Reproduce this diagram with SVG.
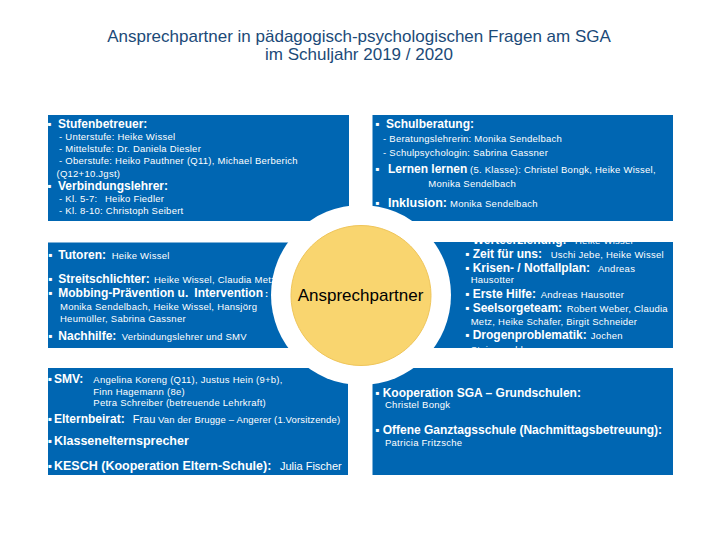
<svg xmlns="http://www.w3.org/2000/svg" width="720" height="540" viewBox="0 0 720 540">
<style>
text{font-family:"Liberation Sans",Arial,sans-serif;fill:#fff}
.t{font-size:17px;fill:#1B4A78;text-anchor:middle}
.b{font-size:12px;font-weight:bold}
.s{font-size:9.5px;letter-spacing:.25px}
.m{font-size:11px}
.box{fill:#0066B2}
.c{font-size:17px;fill:#000;text-anchor:middle}
</style>
<defs>
<clipPath id="cTL"><rect x="48" y="115" width="301" height="106"/></clipPath>
<clipPath id="cTR"><rect x="372.5" y="115" width="300.5" height="106"/></clipPath>
<clipPath id="cML"><rect x="48" y="242.5" width="250" height="105.5"/></clipPath>
<clipPath id="cMR"><rect x="425" y="242" width="248" height="106"/></clipPath>
<clipPath id="cBL"><rect x="48" y="368" width="300" height="107"/></clipPath>
<clipPath id="cBR"><rect x="372.5" y="368" width="300.5" height="107"/></clipPath>
</defs>
<rect width="720" height="540" fill="#fff"/>
<g id="title">
<text class="t" x="359" y="42">Ansprechpartner in pädagogisch-psychologischen Fragen am SGA</text>
<text class="t" x="359" y="60">im Schuljahr 2019 / 2020</text>
</g>
<g id="connectors"/>
<g id="stufenbetreuer">
<rect class="box" x="48" y="115" width="301" height="106"/>
<g clip-path="url(#cTL)">
<text class="b" x="47" y="128">▪</text><text class="b" x="58" y="128">Stufenbetreuer:</text>
<text class="s" x="59" y="139.5">- Unterstufe: Heike Wissel</text>
<text class="s" x="59" y="151.7">- Mittelstufe: Dr. Daniela Diesler</text>
<text class="s" x="59" y="164">- Oberstufe: Heiko Pauthner (Q11), Michael Berberich</text>
<text class="s" x="56.5" y="176.5">(Q12+10.Jgst)</text>
<text class="b" x="47" y="190">▪</text><text class="b" x="58" y="190">Verbindungslehrer:</text>
<text class="s" x="59" y="202.3">- Kl. 5-7:<tspan x="105">Heiko Fiedler</tspan></text>
<text class="s" x="59" y="214.3">- Kl. 8-10: Christoph Seibert</text>
</g>
</g>
<g id="schulberatung">
<rect class="box" x="372.5" y="115" width="300.5" height="106"/>
<g clip-path="url(#cTR)">
<text class="b" x="375" y="128.3">▪</text><text class="b" x="386" y="128.3">Schulberatung:</text>
<text class="s" x="383" y="142.3">- Beratungslehrerin: Monika Sendelbach</text>
<text class="s" x="383" y="155.7">- Schulpsychologin: Sabrina Gassner</text>
<text class="b" x="375" y="173.3">▪</text><text class="b" x="388" y="173.3">Lernen lernen</text>
<text class="s" x="470" y="173.3">(5. Klasse): Christel Bongk, Heike Wissel,</text>
<text class="s" x="428.3" y="187.3">Monika Sendelbach</text>
<text class="b" x="375" y="207.3">▪</text><text class="b" x="388" y="207.3" style="font-size:12.5px">Inklusion:</text>
<text class="s" x="450" y="207.3">Monika Sendelbach</text>
</g>
</g>
<g id="tutoren">
<rect class="box" x="48" y="242.5" width="250" height="105.5"/>
<g clip-path="url(#cML)">
<text class="b" x="48" y="259">▪</text><text class="b" x="58.3" y="259">Tutoren:</text>
<text class="s" x="111.7" y="259">Heike Wissel</text>
<text class="b" x="48" y="283">▪</text><text class="b" x="58.3" y="283">Streitschlichter:</text>
<text class="s" x="154" y="283">Heike Wissel, Claudia Metz</text>
<text class="b" x="48" y="296.5">▪</text><text class="b" x="58.3" y="296.5">Mobbing-Prävention u.<tspan dx="6">Intervention</tspan><tspan dx="2" class="s">:</tspan></text>
<text class="s" x="60" y="310">Monika Sendelbach, Heike Wissel, Hansjörg</text>
<text class="s" x="60" y="321.7">Heumüller, Sabrina Gassner</text>
<text class="b" x="48" y="340">▪</text><text class="b" x="58.3" y="340">Nachhilfe:</text>
<text class="s" x="121.7" y="340">Verbindungslehrer und SMV</text>
</g>
</g>
<g id="zeitfueruns">
<rect class="box" x="425" y="242" width="248" height="106"/>
<g clip-path="url(#cMR)">
<text class="b" x="465" y="244">▪</text><text class="b" x="472.7" y="244">Werteerziehung:</text>
<text class="s" x="575" y="244">Heike Wissel</text>
<text class="b" x="465" y="258.3">▪</text><text class="b" x="472.7" y="258.3">Zeit für uns:</text>
<text class="s" x="550.7" y="258.3">Uschi Jebe, Heike Wissel</text>
<text class="b" x="465" y="271.7">▪</text><text class="b" x="472.7" y="271.7">Krisen- / Notfallplan:</text>
<text class="s" x="598" y="271.7">Andreas</text>
<text class="s" x="470.7" y="283.3">Hausotter</text>
<text class="b" x="465" y="298.3">▪</text><text class="b" x="472.7" y="298.3">Erste Hilfe:</text>
<text class="s" x="540.7" y="298.3">Andreas Hausotter</text>
<text class="b" x="465" y="312.3">▪</text><text class="b" x="472.7" y="312.3">Seelsorgeteam:</text>
<text class="s" x="566.7" y="312.3">Robert Weber, Claudia</text>
<text class="s" x="470.7" y="325">Metz, Heike Schäfer, Birgit Schneider</text>
<text class="b" x="465" y="339">▪</text><text class="b" x="472.7" y="339">Drogenproblematik:</text>
<text class="s" x="590.7" y="339">Jochen</text>
<text class="s" x="470.7" y="353">Steigerwald</text>
</g>
</g>
<g id="smv">
<rect class="box" x="48" y="368" width="300" height="107"/>
<g clip-path="url(#cBL)">
<text class="b" x="47.5" y="383.3">▪</text><text class="b" x="54" y="383.3">SMV:</text>
<text class="s" x="93.3" y="383.3">Angelina Koreng (Q11), Justus Hein (9+b),</text>
<text class="s" x="93.3" y="395">Finn Hagemann (8e)</text>
<text class="s" x="93.3" y="406.3">Petra Schreiber (betreuende Lehrkraft)</text>
<text class="b" x="47.5" y="423.3">▪</text><text class="b" x="54" y="423.3">Elternbeirat:</text>
<text class="m" x="132.7" y="423.3">Frau</text>
<text class="s" x="158" y="423.3" style="letter-spacing:.15px">Van der Brugge – Angerer (1.Vorsitzende)</text>
<text class="b" x="47.5" y="445">▪</text><text class="b" x="54" y="445" style="font-size:12.5px">Klassenelternsprecher</text>
<text class="b" x="47.5" y="470">▪</text><text class="b" x="54" y="470" style="font-size:12.5px">KESCH (Kooperation Eltern-Schule):</text>
<text class="m" x="280" y="470">Julia Fischer</text>
</g>
</g>
<g id="kooperation">
<rect class="box" x="372.5" y="368" width="300.5" height="107"/>
<g clip-path="url(#cBR)">
<text class="b" x="375" y="396.7">▪</text><text class="b" x="382.7" y="396.7">Kooperation SGA – Grundschulen:</text>
<text class="s" x="385" y="408.3">Christel Bongk</text>
<text class="b" x="375" y="434">▪</text><text class="b" x="382.7" y="434">Offene Ganztagsschule (Nachmittagsbetreuung):</text>
<text class="s" x="385" y="446">Patricia Fritzsche</text>
</g>
</g>
<g id="ansprechpartner">
<circle cx="361" cy="295" r="90" fill="#fff"/>
<circle cx="361" cy="295.5" r="70" fill="#F9D56F" stroke="#EFC55A" stroke-width="1"/>
<text class="c" x="360.5" y="301">Ansprechpartner</text>
</g>
</svg>
